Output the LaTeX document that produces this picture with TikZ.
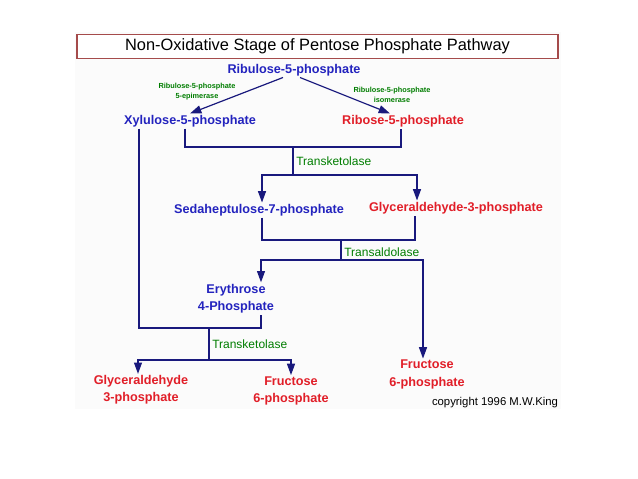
\documentclass[tikz,border=0pt]{standalone}
\usepackage{fontspec}
\setmainfont{Liberation Sans}
\usetikzlibrary{arrows.meta,calc}
\definecolor{pathblue}{RGB}{35,35,190}
\definecolor{pathred}{RGB}{225,30,40}
\definecolor{pathgreen}{RGB}{0,125,0}
\definecolor{pathline}{RGB}{25,25,125}
\definecolor{pathframe}{RGB}{165,75,75}
\definecolor{pathpanel}{RGB}{251,251,251}
\tikzset{
  sugar/.style={inner sep=1pt, align=center, font=\fontsize{9.5}{13}\selectfont\bfseries},
  sugarb/.style={sugar, text=pathblue},
  sugarr/.style={sugar, text=pathred},
  enzyme/.style={inner sep=2pt, text=pathgreen, font=\fontsize{9}{11}\selectfont},
  tinyenzyme/.style={inner sep=0pt, align=center, text=pathgreen,
    font=\fontsize{5.5}{7.5}\selectfont\bfseries},
  link/.style={draw=pathline, line width=0.9pt},
  flow/.style={link, -{Triangle[length=8.5pt, width=6pt]}}
}
\begin{document}
\begin{tikzpicture}[x=0.75pt, y=-0.75pt]
  \useasboundingbox (0,0) rectangle (638,478);
  \fill[pathpanel] (75,32) rectangle (561,409);
  \node[draw=pathframe, fill=white, line width=0.9pt, minimum width=360.75pt, minimum height=17.25pt,
    font=\fontsize{12.3}{14}\selectfont] (title) at (317.5,46.5) {Non-Oxidative Stage of Pentose Phosphate Pathway};

  \node[sugarb] (ribulose) at (294,70) {Ribulose-5-phosphate};
  \node[sugarb] (xylulose) at (190,121) {Xylulose-5-phosphate};
  \node[sugarr] (ribose) at (403,121) {Ribose-5-phosphate};
  \node[tinyenzyme] (epimerase) at (197,91.5) {Ribulose-5-phosphate\\5-epimerase};
  \node[tinyenzyme] (isomerase) at (392,94.5) {Ribulose-5-phosphate\\isomerase};
  \node[sugarb] (sedo) at (259,210) {Sedaheptulose-7-phosphate};
  \node[sugarr] (glyc) at (456,208) {Glyceraldehyde-3-phosphate};
  \node[sugarb] (erythrose) at (236,298.5) {Erythrose\\4-Phosphate};
  \node[sugarr] (glyctwo) at (141,390) {Glyceraldehyde\\3-phosphate};
  \node[sugarr] (fructwo) at (291,391) {Fructose\\6-phosphate};
  \node[sugarr] (fruc) at (427,374.5) {Fructose\\6-phosphate};
  \node[font=\fontsize{8.5}{10}\selectfont] (copyright) at (495,403) {copyright 1996 M.W.King};

  \coordinate (tkone) at (293,147);
  \coordinate (forkone) at (293,175);
  \coordinate (ta) at (341,240);
  \coordinate (forkta) at (341,260);
  \coordinate (tktwo) at (209,328);
  \coordinate (forktwo) at (209,360);

  \draw[flow] ($(ribulose.south)+(-11,0)$) -- (xylulose.north);
  \draw[flow] ($(ribulose.south)+(6,0)$) -- ($(ribose.north)+(-13,0)$);

  \draw[link] ($(xylulose.south)+(-5,0)$) |- (tkone) -| ($(ribose.south)+(-2,0)$);
  \draw[link] (tkone) -- node[enzyme, right] {Transketolase} (forkone);
  \draw[flow] (forkone) -| ($(sedo.north)+(3,0)$);
  \draw[flow] (forkone) -| ($(glyc.north)+(-39,0)$);

  \draw[link] ($(sedo.south)+(3,0)$) |- (ta) -| ($(glyc.south)+(-41,0)$);
  \draw[link] (ta) -- node[enzyme, right, yshift=-1.5pt] {Transaldolase} (forkta);
  \draw[flow] (forkta) -| ($(erythrose.north)+(25,0)$);
  \draw[flow] (forkta) -| ($(fruc.north)+(-4,0)$);

  \draw[link] ($(xylulose.south)+(-51,0)$) |- (tktwo) -| ($(erythrose.south)+(25,0)$);
  \draw[link] (tktwo) -- node[enzyme, right] {Transketolase} (forktwo);
  \draw[flow] (forktwo) -| ($(glyctwo.north)+(-3,0)$);
  \draw[flow] (forktwo) -| (fructwo.north);
\end{tikzpicture}
\end{document}
